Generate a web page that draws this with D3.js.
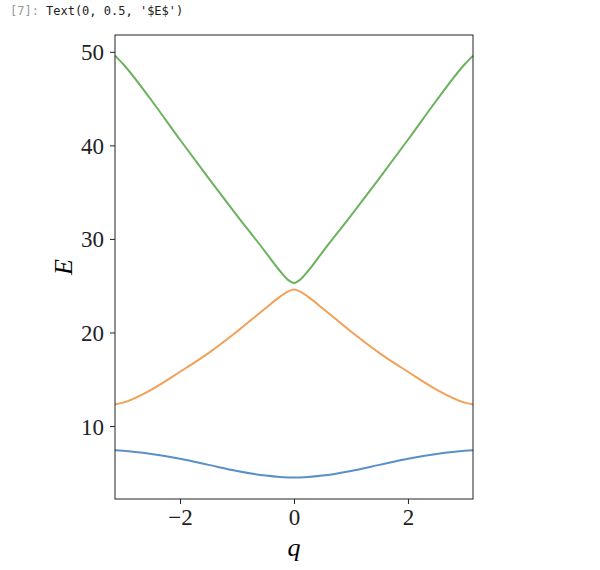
<!DOCTYPE html>
<html><head><meta charset="utf-8">
<script src="https://cdn.jsdelivr.net/npm/d3@7"></script>
<style>body{margin:0;background:#fff}</style>
</head><body><div id="chart"></div>
<script>
// band energies, symmetric in q
const qs     = [0, 0.1, 0.25, 0.5, 1, 1.5, 2, 2.5, 3, Math.PI];
const band1  = [4.5, 4.51, 4.55, 4.7, 5.2, 5.85, 6.5, 7.0, 7.35, 7.4];
const band2  = [24.6, 24.4, 23.8, 22.6, 20.1, 17.8, 15.8, 13.9, 12.5, 12.3];
const band3  = [25.3, 25.6, 26.6, 28.6, 32.5, 36.5, 40.6, 44.8, 48.7, 49.6];
const colors = ["#5a8fc8", "#f2a158", "#6db15f"];
const xTicks = [-2, 0, 2];
const yTicks = [10, 20, 30, 40, 50];

const W = 600, H = 570;
const m = {left: 115, right: 127, top: 35, bottom: 71};
const svg = d3.select("#chart").append("svg").attr("width", W).attr("height", H);

svg.append("text").attr("x", 10).attr("y", 15).attr("font-family", "DejaVu Sans Mono").attr("font-size", 12)
  .attr("fill", "#999").text("[7]:");
svg.append("text").attr("x", 46).attr("y", 15).attr("font-family", "DejaVu Sans Mono").attr("font-size", 12)
  .attr("fill", "#222").text("Text(0, 0.5, '$E$')");

const x = d3.scaleLinear().domain([-Math.PI, Math.PI]).range([m.left, W - m.right]);
const y = d3.scaleLinear().domain([2.2, 51.8]).range([H - m.bottom, m.top]);

const full = b => {
  const pts = [];
  for (let i = qs.length - 1; i > 0; i--) pts.push([-qs[i], b[i]]);
  for (let i = 0; i < qs.length; i++) pts.push([qs[i], b[i]]);
  return pts;
};
const line = d3.line().x(d => x(d[0])).y(d => y(d[1])).curve(d3.curveMonotoneX);
[band1, band2, band3].forEach((b, i) => {
  svg.append("path").attr("d", line(full(b))).attr("fill", "none")
    .attr("stroke", colors[i]).attr("stroke-width", 2);
});

const font = "Liberation Serif";
const gx = svg.append("g").attr("transform", `translate(0,${H - m.bottom})`)
  .call(d3.axisBottom(x).tickValues(xTicks).tickSize(5).tickPadding(5).tickFormat(d => d < 0 ? "\u2212" + (-d) : d));
const gy = svg.append("g").attr("transform", `translate(${m.left},0)`)
  .call(d3.axisLeft(y).tickValues(yTicks).tickSize(5).tickPadding(6));
[gx, gy].forEach(g => {
  g.select(".domain").remove();
  g.selectAll("text").attr("font-family", font).attr("font-size", 23).attr("fill", "#222");
  g.selectAll("line").attr("stroke", "#222");
});
gy.selectAll("text").attr("dy", "0.35em");

svg.append("rect").attr("x", m.left).attr("y", m.top)
  .attr("width", W - m.left - m.right).attr("height", H - m.top - m.bottom)
  .attr("fill", "none").attr("stroke", "#222").attr("stroke-width", 1);

svg.append("text").attr("x", (m.left + W - m.right) / 2).attr("y", 556).attr("text-anchor", "middle")
  .attr("font-family", font).attr("font-style", "italic").attr("font-size", 26).text("q");
svg.append("text").attr("transform", `translate(72,${(m.top + H - m.bottom) / 2}) rotate(-90)`)
  .attr("text-anchor", "middle").attr("font-family", font).attr("font-style", "italic")
  .attr("font-size", 26).text("E");
</script></body></html>
